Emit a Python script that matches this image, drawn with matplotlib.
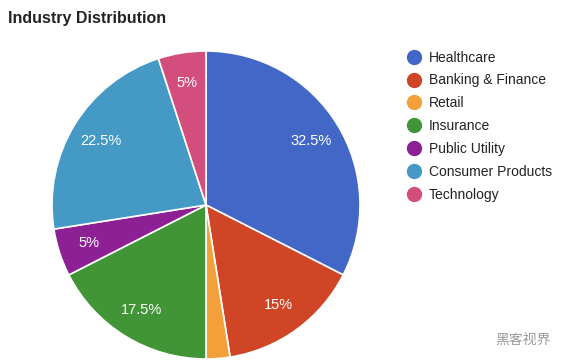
import matplotlib
matplotlib.use("Agg")
import matplotlib.pyplot as plt
from matplotlib.lines import Line2D
import numpy as np

categories = ["Healthcare", "Banking & Finance", "Retail", "Insurance",
              "Public Utility", "Consumer Products", "Technology"]
values = [32.5, 15, 2.5, 17.5, 5, 22.5, 5]
labels = ["32.5%", "15%", "", "17.5%", "5%", "22.5%", "5%"]
colors = ["#4267c6", "#cf4526", "#f3a03a", "#419537", "#8d2095", "#4499c5", "#d34e7c"]

plt.rcParams['font.family'] = ['Liberation Sans', 'DejaVu Sans']

fig = plt.figure(figsize=(5.7, 3.64), dpi=100)
fig.patch.set_facecolor("white")

ax = fig.add_axes([52/570, 5/364, 308/570, 308/364])
wedges, texts = ax.pie(values, colors=colors, startangle=90, counterclock=False,
                       radius=1, wedgeprops=dict(edgecolor="white", linewidth=1.2))
ax.set_xlim(-1, 1)
ax.set_ylim(-1, 1)
ax.set_aspect("equal")
ax.axis("off")

for w, lab in zip(wedges, labels):
    if not lab:
        continue
    ang = np.deg2rad((w.theta1 + w.theta2) / 2)
    r = 0.8
    ax.text(r * np.cos(ang), r * np.sin(ang), lab, color="white",
            ha="center", va="center", fontsize=10.5)

fig.text(8/570, 1 - 18/364, "Industry Distribution", fontsize=11.5, fontweight="bold",
         ha="left", va="center", color="#222222")

handles = [Line2D([0], [0], marker="o", linestyle="none", markersize=10,
                  markerfacecolor=c, markeredgecolor=c) for c in colors]
fig.legend(handles, categories, loc="upper left", bbox_to_anchor=(398/570, 1 - 45/364),
           frameon=False, fontsize=10, labelspacing=0.64, handletextpad=0.3,
           handlelength=1.5, borderaxespad=0, labelcolor="#222222")

fig.text(495/570, 1 - 340/364, "黑客视界", fontsize=10, color="#9a9a9a",
         family=["Noto Sans CJK SC", "DejaVu Sans"], ha="left", va="center")

fig.savefig("out.png", dpi=100, facecolor="white")
